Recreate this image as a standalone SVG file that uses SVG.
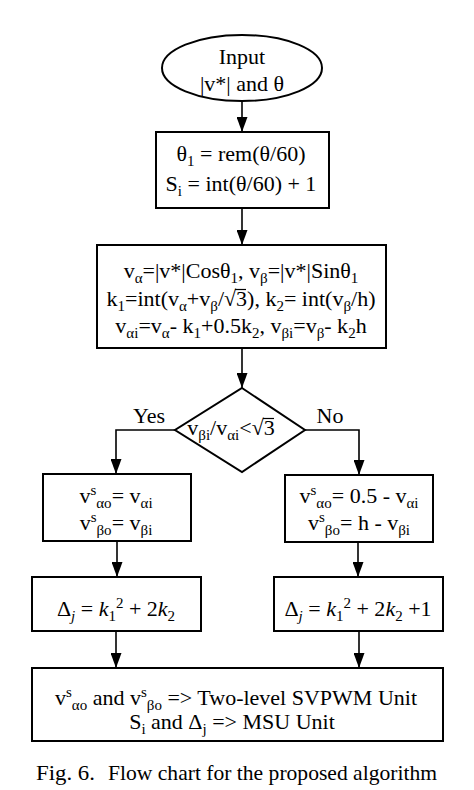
<svg xmlns="http://www.w3.org/2000/svg" width="474" height="790" viewBox="0 0 474 790">
<style>
.t{font-family:"Liberation Serif","Times New Roman",serif;font-size:22px;fill:#000;text-anchor:middle}
.s{font-size:15px;baseline-shift:-5px}
.p{font-size:15px;baseline-shift:8px}
.i{font-style:italic}
.sh{fill:#fff;stroke:#000;stroke-width:2}
.c{fill:none;stroke:#000;stroke-width:1.6}
.ov{stroke:#000;stroke-width:1.2}
.cap{font-family:"Liberation Serif","Times New Roman",serif;font-size:21px;fill:#000}
</style>
<defs>
<marker id="ah" viewBox="0 0 15 11" refX="15" refY="5.5" markerWidth="15" markerHeight="11" markerUnits="userSpaceOnUse" orient="auto">
<path d="M0,0 L15,5.5 L0,11 z" fill="#000"/>
</marker>
</defs>
<rect width="474" height="790" fill="#fff"/>
<g id="connectors">
<path class="c" d="M242,101 L242,132" marker-end="url(#ah)"/>
<path class="c" d="M242,208 L242,245" marker-end="url(#ah)"/>
<path class="c" d="M242,348 L242,388" marker-end="url(#ah)"/>
<path class="c" d="M175,430 L116,430 L116,474" marker-end="url(#ah)"/>
<path class="c" d="M305,430 L359,430 L359,475" marker-end="url(#ah)"/>
<path class="c" d="M117,541 L117,577" marker-end="url(#ah)"/>
<path class="c" d="M358,542 L358,577" marker-end="url(#ah)"/>
<path class="c" d="M116,631 L116,668" marker-end="url(#ah)"/>
<path class="c" d="M359,631 L359,668" marker-end="url(#ah)"/>
<text class="t" x="149" y="423">Yes</text>
<text class="t" x="330" y="423">No</text>
</g>
<g id="input">
<ellipse class="sh" cx="242" cy="68" rx="80" ry="33"/>
<text class="t" x="242" y="64">Input</text>
<text class="t" x="242" y="91">|v*| and θ</text>
</g>
<g id="box1">
<rect class="sh" x="156" y="132" width="173" height="76"/>
<text class="t" x="241" y="161">θ<tspan class="s">1</tspan> = rem(θ/60)</text>
<text class="t" x="241" y="191">S<tspan class="s">i</tspan> = int(θ/60) + 1</text>
</g>
<g id="box2">
<rect class="sh" x="97" y="245" width="289" height="103"/>
<text class="t" x="241" y="278">v<tspan class="s">α</tspan>=|v*|Cosθ<tspan class="s">1</tspan>, v<tspan class="s">β</tspan>=|v*|Sinθ<tspan class="s">1</tspan></text>
<text class="t" x="241" y="306">k<tspan class="s">1</tspan>=int(v<tspan class="s">α</tspan>+v<tspan class="s">β</tspan>/√3), k<tspan class="s">2</tspan>= int(v<tspan class="s">β</tspan>/h)</text>
<line class="ov" x1="235" y1="289.5" x2="246" y2="289.5"/>
<text class="t" x="241" y="333">v<tspan class="s">αi</tspan>=v<tspan class="s">α</tspan>- k<tspan class="s">1</tspan>+0.5k<tspan class="s">2</tspan>, v<tspan class="s">βi</tspan>=v<tspan class="s">β</tspan>- k<tspan class="s">2</tspan>h</text>
</g>
<g id="decision">
<polygon class="sh" points="242,388 305,430 242,472 175,430"/>
<text class="t" x="231" y="435">v<tspan class="s">βi</tspan>/v<tspan class="s">αi</tspan>&lt;√3</text>
<line class="ov" x1="263" y1="418.5" x2="274" y2="418.5"/>
</g>
<g id="yes1">
<rect class="sh" x="43" y="474" width="148" height="67"/>
<text class="t" x="116" y="503">v<tspan class="p">s</tspan><tspan class="s">αo</tspan>= v<tspan class="s">αi</tspan></text>
<text class="t" x="116" y="530">v<tspan class="p">s</tspan><tspan class="s">βo</tspan>= v<tspan class="s">βi</tspan></text>
</g>
<g id="yes2">
<rect class="sh" x="32" y="577" width="169" height="54"/>
<text class="t" x="116" y="616">Δ<tspan class="s i">j</tspan> = <tspan class="i">k</tspan><tspan class="s">1</tspan><tspan class="p">2</tspan> + 2<tspan class="i">k</tspan><tspan class="s">2</tspan></text>
</g>
<g id="no1">
<rect class="sh" x="285" y="475" width="148" height="67"/>
<text class="t" x="359" y="503">v<tspan class="p">s</tspan><tspan class="s">αo</tspan>= 0.5 - v<tspan class="s">αi</tspan></text>
<text class="t" x="359" y="530">v<tspan class="p">s</tspan><tspan class="s">βo</tspan>= h - v<tspan class="s">βi</tspan></text>
</g>
<g id="no2">
<rect class="sh" x="274" y="577" width="169" height="54"/>
<text class="t" x="358" y="616">Δ<tspan class="s i">j</tspan> = <tspan class="i">k</tspan><tspan class="s">1</tspan><tspan class="p">2</tspan> + 2<tspan class="i">k</tspan><tspan class="s">2</tspan> +1</text>
</g>
<g id="output">
<rect class="sh" x="32" y="668" width="411" height="73"/>
<text class="t" x="236" y="705">v<tspan class="p">s</tspan><tspan class="s">αo</tspan> and v<tspan class="p">s</tspan><tspan class="s">βo</tspan> =&gt; Two-level SVPWM Unit</text>
<text class="t" x="232" y="729">S<tspan class="s">i</tspan> and Δ<tspan class="s">j</tspan> =&gt; MSU Unit</text>
</g>
<text class="cap" x="36" y="780" textLength="59" lengthAdjust="spacingAndGlyphs">Fig. 6.</text>
<text class="cap" x="108" y="780" textLength="329" lengthAdjust="spacingAndGlyphs">Flow chart for the proposed algorithm</text>
</svg>
